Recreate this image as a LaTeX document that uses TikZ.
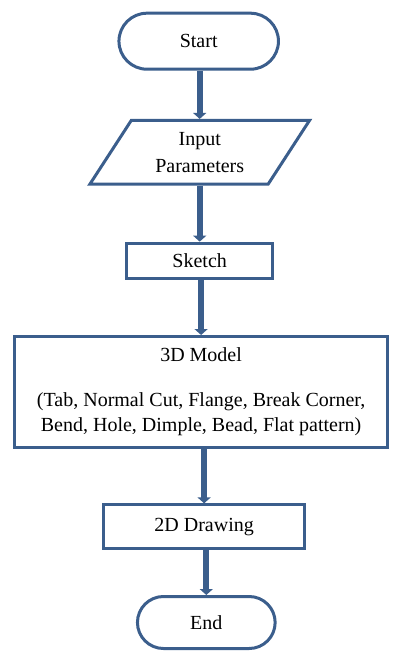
\documentclass[tikz,border=0pt]{standalone}
\usepackage{fontspec}
\setmainfont{Liberation Serif}
\usetikzlibrary{shapes.geometric,shapes.misc,arrows.meta}
\definecolor{flowblue}{RGB}{59,94,140}

\begin{document}
\begin{tikzpicture}[
      x=1pt,y=-1pt,
      every node/.style={inner sep=0pt,align=center,font=\fontsize{20}{25.5}\selectfont},
      box/.style={draw=flowblue,line width=3pt},
      terminal/.style={box,rounded rectangle},
      io/.style={box,trapezium,trapezium left angle=56,trapezium right angle=124,trapezium stretches=true},
      flow/.style={draw=flowblue,line width=6pt,-{Triangle[width=13pt,length=6pt]}}
    ]
      \useasboundingbox (0,0) rectangle (400,655);
      \node[terminal,minimum width=159.5pt,minimum height=56pt] (start) at (198.7,41.2) {Start};
      \node[io,minimum width=220pt,minimum height=63.7pt] (input) at (199.7,152.3) {Input\\[1pt]Parameters};
      \node[box,minimum width=146.3pt,minimum height=35.3pt] (sketch) at (199.7,260.8) {Sketch};
      \node[box,minimum width=372.7pt,minimum height=111pt] (model) at (201.1,392)
        {3D Model\\[19pt](Tab, Normal Cut, Flange, Break Corner,\\Bend, Hole, Dimple, Bead, Flat pattern)};
      \node[box,minimum width=200.7pt,minimum height=43.7pt] (drawing) at (204.1,526.7) {2D Drawing};
      \node[terminal,minimum width=137.7pt,minimum height=52pt] (stop) at (206.3,622.5) {End};
      % arrows
      \draw[flow] (input.north |- start.south) -- (input.north);
      \draw[flow] (sketch.north |- input.south) -- (sketch.north);
      \draw[flow] (model.north |- sketch.south) -- (model.north);
      \draw[flow] (drawing.north |- model.south) -- (drawing.north);
      \draw[flow] (stop.north |- drawing.south) -- (stop.north);
    \end{tikzpicture}
\end{document}
